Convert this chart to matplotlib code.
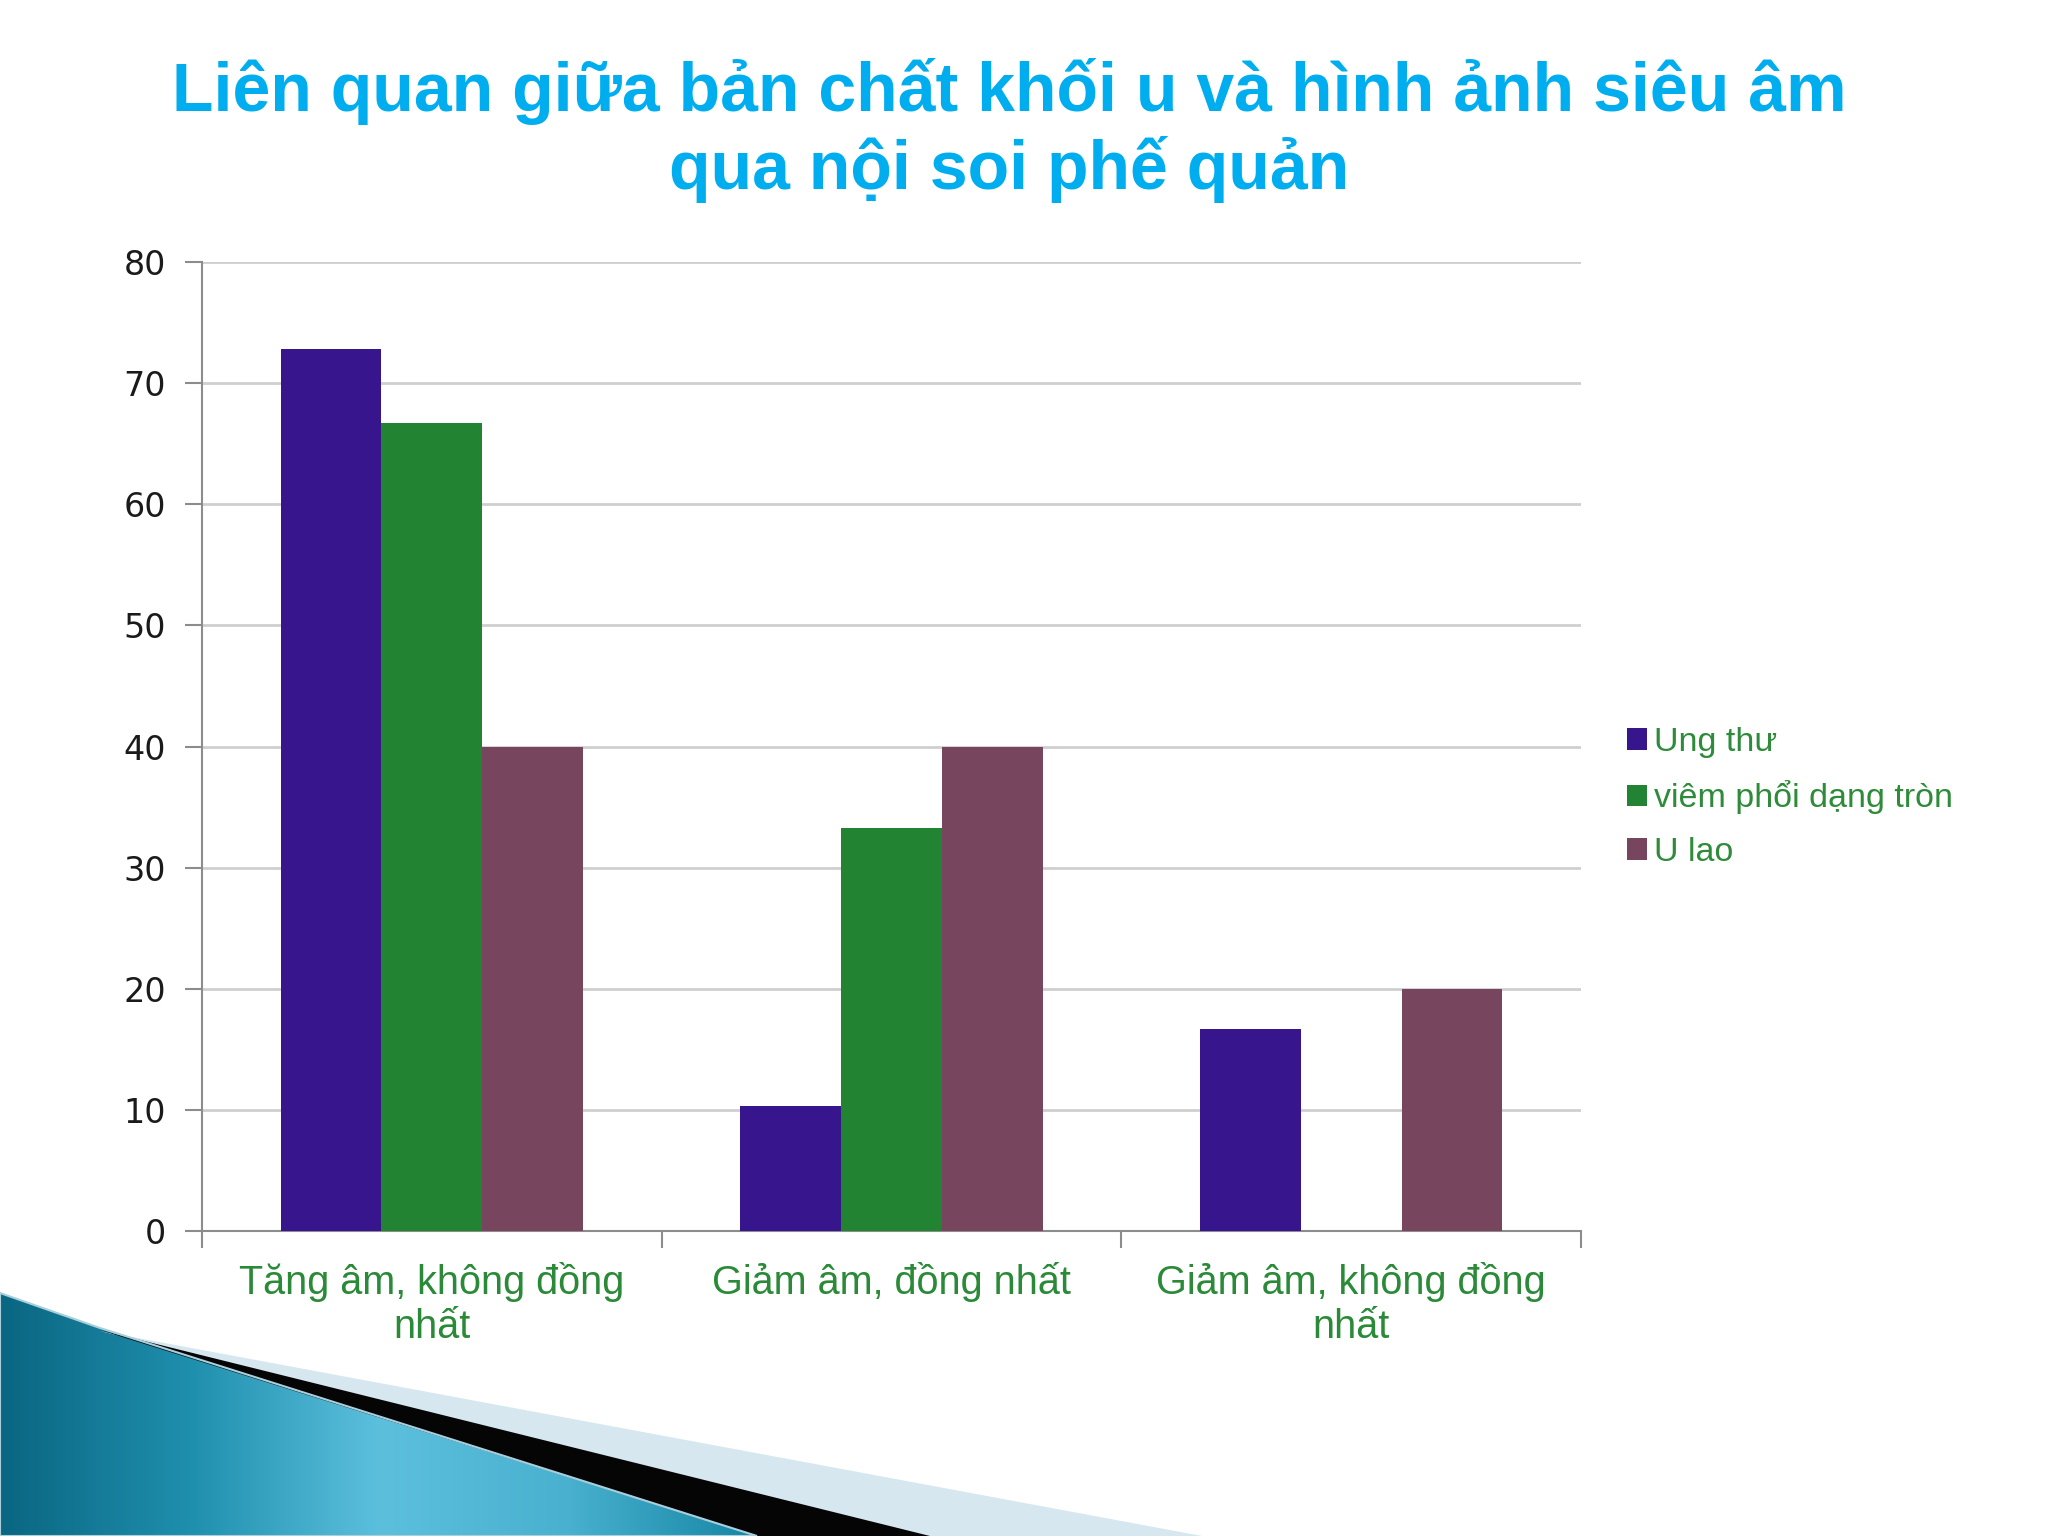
import numpy as np
import matplotlib.pyplot as plt
from matplotlib.patches import Polygon
from matplotlib.colors import LinearSegmentedColormap

# data
categories = ['Tăng âm, không đồng\nnhất', 'Giảm âm, đồng nhất', 'Giảm âm, không đồng\nnhất']
series_names = ['Ung thư', 'viêm phổi dạng tròn', 'U lao']
ung_thu = [72.8, 10.3, 16.7]
viem_phoi = [66.7, 33.3, 0]
u_lao = [40, 40, 20]
y_ticks = [0, 10, 20, 30, 40, 50, 60, 70, 80]

colors = ['#37158c', '#228432', '#77465e']
label_green = '#2a8a38'
title = 'Liên quan giữa bản chất khối u và hình ảnh siêu âm\nqua nội soi phế quản'

W, H = 2048, 1536
fig = plt.figure(figsize=(W / 100, H / 100), dpi=100)
fig.patch.set_facecolor('white')

# background decoration in pixel coords
bg = fig.add_axes([0, 0, 1, 1], zorder=0)
bg.set_xlim(0, W)
bg.set_ylim(H, 0)
bg.axis('off')

light = Polygon([(100, 1331), (1202, 1536), (925, 1536)], closed=True,
                facecolor='#d6e7f0', edgecolor='none')
bg.add_patch(light)
black = Polygon([(100, 1330), (930, 1536), (757, 1536)], closed=True,
                facecolor='#050505', edgecolor='none')
bg.add_patch(black)
teal_poly = Polygon([(0, 1293), (100, 1328), (757, 1536), (0, 1536)], closed=True,
                    facecolor='none', edgecolor='#a9cfdc', linewidth=1.5)
bg.add_patch(teal_poly)
cmap = LinearSegmentedColormap.from_list('teal', ['#0a6681', '#1f8fae', '#5cc0dd', '#49b0cf', '#1485a3'])
grad = np.linspace(0, 1, 256).reshape(1, -1)
im = bg.imshow(grad, cmap=cmap, extent=[0, 760, 1536, 1290], aspect='auto', zorder=0)
im.set_clip_path(teal_poly)

# chart
ax = fig.add_axes([202 / W, 1 - 1231 / H, (1581 - 202) / W, (1231 - 262) / H], zorder=1)
ax.patch.set_alpha(0)

x = np.arange(len(categories))
w = 0.219
for i, (name, vals) in enumerate(zip(series_names, [ung_thu, viem_phoi, u_lao])):
    ax.bar(x + (i - 1) * w, vals, w, color=colors[i], label=name, zorder=3)

ax.set_xlim(-0.5, 2.5)
ax.set_ylim(0, 80)
ax.set_yticks(y_ticks)
ax.set_yticklabels([str(v) for v in y_ticks], family='DejaVu Sans', fontsize=24, color='#1a1a1a')
ax.set_xticks(x)
ax.set_xticklabels(categories, family='Liberation Sans', fontsize=28.5, color=label_green,
                   linespacing=1.2)
ax.set_xticks([-0.5, 0.5, 1.5, 2.5], minor=True)
ax.tick_params(axis='x', which='major', length=0, pad=22)
ax.tick_params(axis='x', which='minor', length=12, width=1.5, color='#8c8c8c', direction='out')
ax.tick_params(axis='y', length=12, width=1.5, color='#8c8c8c', direction='out', pad=14)
ax.grid(axis='y', color='#cfcfcf', linewidth=2, zorder=0)
ax.set_axisbelow(True)
for s in ['top', 'right']:
    ax.spines[s].set_visible(False)
for s in ['left', 'bottom']:
    ax.spines[s].set_color('#8c8c8c')
    ax.spines[s].set_linewidth(1.5)

fig.legend(loc='upper left', bbox_to_anchor=(1627 / W, 1 - 727 / H), frameon=False,
           prop={'family': 'Liberation Sans', 'size': 24.5}, labelcolor='#2e8b3a',
           handlelength=0.6, handleheight=0.6, handletextpad=0.2, labelspacing=0.66,
           borderaxespad=0, borderpad=0)

fig.text(1009 / W, 1 - 58 / H, title, ha='center', va='top', family='Liberation Sans',
         fontweight='bold', fontsize=49, color='#00aeef', linespacing=1.2)

fig.savefig('out.png', dpi=100)
